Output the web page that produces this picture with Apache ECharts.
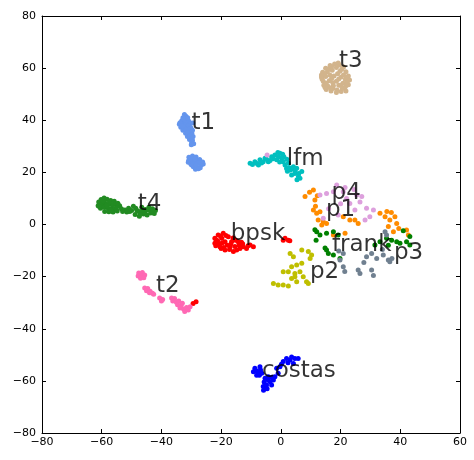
<!DOCTYPE html>
<html>
<head>
<meta charset="utf-8">
<script src="https://cdn.jsdelivr.net/npm/echarts@6/dist/echarts.min.js"></script>
<style>
html,body{margin:0;padding:0;background:#fff;}
#chart{width:474px;height:460px;}
</style>
</head>
<body>
<div id="chart"></div>
<script>
// ---- data ----
const xRange = [-80, 60];
const yRange = [-80, 80];
const tickStep = 20;

const t1 = [[-32.3,42.2],[-31.8,41.5],[-32.8,41.0],[-31.5,40.2],[-33.2,39.8],[-32.2,39.5],[-30.8,39.6],[-34.0,38.5],[-33.0,38.3],[-31.8,38.4],[-30.5,38.6],[-29.5,38.9],[-33.5,37.3],[-32.4,37.2],[-31.2,37.5],[-30.1,37.0],[-32.8,36.2],[-31.5,36.0],[-30.4,35.8],[-31.9,35.0],[-30.9,34.6],[-29.8,34.9],[-31.3,33.8],[-30.2,33.5],[-29.4,33.8],[-30.6,32.6],[-29.6,32.2],[-29.9,31.3],[-29.2,31.0],
  [-32.6,40.6],[-31.2,41.0],[-33.8,39.0],[-31.0,38.0],[-32.0,36.6],[-30.6,36.6],[-31.2,35.2],[-30.5,34.0],[-29.8,32.9],[-33.0,37.8],[-29.6,36.2],[-30.0,30.6],
  [-30.8,25.8],[-29.6,26.3],[-28.4,25.9],[-30.9,24.5],[-29.7,24.8],[-28.5,24.6],[-27.2,24.9],[-26.2,24.0],[-30.2,23.3],[-29.0,23.5],[-27.8,23.4],[-26.6,22.9],[-29.3,22.2],[-28.1,22.0],[-27.0,21.8],[-28.6,21.2],
  [-29.9,25.4],[-28.8,25.2],[-27.4,23.8],[-29.9,22.8],[-28.4,22.8],[-26.0,23.2],[-31.0,23.9],[-27.6,21.4]];
const t4 = [[-61.0,8.6],[-60.2,9.6],[-59.2,10.2],[-58.2,9.7],[-57.0,9.2],[-55.8,8.9],[-61.2,7.2],[-60.0,7.8],[-58.8,8.2],[-57.6,7.8],[-56.4,7.6],[-55.2,7.7],[-54.0,7.2],[-60.4,6.2],[-59.2,6.6],[-58.0,6.4],[-56.8,6.1],[-55.6,6.0],[-59.0,5.0],[-57.6,4.9],[-56.2,4.8],[-54.8,5.2],[-53.4,6.0],[-52.2,5.6],[-51.0,6.2],[-50.0,5.4],[-49.4,7.0],[-48.6,6.2],[-47.6,5.0],[-46.6,6.6],[-45.4,5.8],[-44.2,6.6],[-43.0,6.0],[-42.0,5.4],[-48.8,3.8],[-47.4,3.2],[-46.0,4.0],[-44.8,3.6],[-43.6,4.4],[-42.4,4.2],
  [-59.6,9.0],[-57.4,8.6],[-60.8,6.9],[-58.4,7.2],[-55.0,6.6],[-57.0,5.6],[-53.0,5.0],[-51.6,4.8],[-50.6,5.0],[-47.0,4.2],[-45.6,4.8],[-43.2,5.2],[-44.6,5.6],[-46.4,5.4],[-48.2,5.4],[-54.6,8.2]];
const t3 = [[15.0,60.0],[16.5,61.0],[18.0,61.6],[19.6,61.2],[21.0,60.4],[14.0,58.4],[15.6,58.6],[17.2,59.2],[19.8,58.8],[21.8,58.6],[22.6,57.0],[13.6,56.6],[15.0,56.8],[17.8,57.0],[20.2,56.6],[21.6,55.6],[23.0,55.4],[14.2,55.0],[16.2,55.2],[18.6,55.0],[20.8,54.2],[22.6,53.6],[14.4,53.4],[15.8,53.0],[17.6,53.2],[19.4,53.4],[21.4,52.4],[15.2,51.8],[16.8,51.2],[18.6,50.6],[20.2,51.0],[21.8,51.2],[17.4,52.2],
  [16.0,59.8],[18.6,60.2],[20.4,59.6],[14.6,57.6],[16.4,57.4],[19.0,57.8],[21.0,57.4],[22.0,56.4],[13.8,55.8],[17.0,56.0],[19.4,55.8],[22.2,54.6],[15.2,54.2],[17.4,54.4],[20.0,53.4],[21.8,53.2],[16.6,52.4],[18.8,51.6],[20.6,52.2],[14.8,52.6],[19.2,62.0],[17.0,60.6],[13.6,57.4]];
const lfm = [[-10.3,23.5],[-8.7,24.1],[-7.0,24.8],[-7.5,22.8],[-5.9,24.1],[-5.3,25.4],[-4.2,24.1],[-3.1,26.0],[-2.0,26.7],[-1.4,24.8],[-0.3,27.3],[0.3,25.4],[0.8,24.1],[1.4,22.8],[1.9,21.5],[3.1,20.9],[4.2,22.2],[4.7,19.6],[5.9,18.4],[7.0,20.3],[5.3,21.6],[2.5,23.5],[3.6,19.0],[6.4,17.7],[-0.8,26.0],[-9.5,23.0],[-6.5,23.6],[-2.6,25.2],[1.0,26.0],[2.8,21.8],
  [-8.0,23.4],[-4.8,25.0],[-3.6,24.6],[-1.0,27.6],[0.6,27.0],[2.0,25.0],[3.6,21.2],[4.8,20.6],[6.0,19.6],[5.4,17.2],[2.2,20.4],[-0.4,24.0]];
const bpsk = [[-22.1,-5.3],[-22.1,-7.2],[-21.0,-4.0],[-20.4,-8.5],[-19.3,-3.4],[-18.7,-9.8],[-17.6,-4.7],[-17.0,-8.5],[-15.9,-10.4],[-14.8,-9.8],[-13.7,-9.2],[-12.6,-8.5],[-11.5,-9.2],[-10.3,-7.9],[-9.2,-8.5],[-14.3,-6.6],[-16.5,-6.6],[-18.7,-6.6],[-19.8,-5.3],[-21.2,-6.2],[-20.6,-7.4],[-16.0,-5.2],
  [-21.6,-6.0],[-20.2,-4.4],[-18.4,-4.2],[-19.6,-7.0],[-18.0,-8.0],[-16.8,-7.6],[-15.4,-8.4],[-14.0,-8.0],[-12.8,-7.4],[-11.0,-8.2],[-17.2,-9.6],[-19.2,-8.8],[-15.2,-6.0],[-13.2,-6.8],[-21.8,-8.2],[-20.0,-9.2],
  [1.4,-5.3],[2.5,-6.0],[3.0,-6.2],[0.8,-6.0],[-29.4,-30.3],[-28.4,-29.6]];
const t2 = [[-47.6,-18.6],[-46.4,-18.4],[-47.8,-19.8],[-46.6,-19.6],[-45.6,-19.4],[-47.0,-20.6],[-45.9,-20.4],
  [-45.6,-24.4],[-44.6,-24.6],[-45.0,-25.4],[-43.8,-25.6],[-43.0,-26.4],[-44.0,-26.2],[-42.6,-26.8],
  [-40.6,-28.2],[-39.6,-28.8],[-40.0,-29.4],
  [-36.6,-28.2],[-35.6,-28.4],[-36.2,-29.4],[-35.0,-29.8],[-34.2,-29.4],[-34.6,-30.8],[-33.4,-31.0],[-33.8,-32.0],[-32.6,-32.4],[-31.6,-31.8],[-32.2,-33.4],[-31.0,-32.8],[-30.4,-31.6],[-33.0,-30.2]];
const costas = [[-9.2,-56.5],[-8.7,-55.2],[-8.1,-57.8],[-7.0,-54.6],[-6.4,-57.1],[-5.3,-59.0],[-5.9,-62.2],[-4.8,-61.6],[-3.6,-60.3],[-2.5,-59.7],[-3.1,-61.6],[-2.0,-58.4],[-0.9,-57.1],[-0.3,-54.6],[0.8,-52.6],[1.9,-51.4],[3.1,-52.0],[4.2,-53.3],[5.8,-51.4],[4.7,-51.4],[-1.4,-55.2],[-4.2,-58.4],[-5.3,-62.2],[-7.6,-56.5],[-5.8,-63.6],[-4.6,-63.0],
  [-8.4,-56.0],[-6.8,-55.8],[-5.6,-60.4],[-4.2,-59.8],[-3.0,-58.6],[0.2,-53.6],[2.4,-53.0],[3.6,-50.8],[-7.2,-57.8]];
const p2 = [[3.1,-11.1],[4.2,-12.4],[7.0,-9.8],[9.2,-10.4],[10.3,-11.7],[9.8,-13.0],[5.3,-15.5],[7.0,-14.9],[3.6,-16.2],[0.8,-18.1],[2.5,-18.1],[4.7,-18.8],[6.4,-18.1],[7.5,-20.0],[8.6,-22.0],[3.6,-20.7],[-2.5,-22.6],[-0.9,-23.2],[0.8,-23.2],[2.5,-23.6],[5.3,-22.0],[9.2,-22.6],[4.7,-20.0]];
const p1 = [[8.1,10.7],[10.9,13.2],[9.6,12.4],[11.4,9.4],[12.2,11.0],[10.9,5.6],[12.0,4.3],[13.1,4.9],[12.5,1.7],[14.2,1.1],[15.3,0.4],[13.7,-0.2],[20.9,3.0],[23.1,1.7],[24.8,1.7],[25.9,0.4],[33.2,4.3],[34.9,3.0],[36.5,1.7],[38.2,3.0],[38.8,0.4],[36.0,-0.8],[37.7,-2.8],[42.1,-2.1],[42.7,-4.0],[21.5,-3.4],[17.6,-4.0],[11.6,7.0],[39.5,-1.5],[35.5,5.0],[37.0,4.6]];
const p4 = [[13.1,11.3],[15.3,11.9],[17.6,12.6],[20.9,12.6],[25.4,11.3],[27.1,10.7],[23.1,8.1],[28.7,6.2],[31.0,5.6],[28.2,1.7],[24.8,5.6],[19.2,3.6],[14.2,2.4],[29.8,3.0],[22.0,10.0],[18.7,15.2],[21.5,14.2],[24.5,13.4],[26.5,8.6],[20.0,8.0],[16.0,6.0],[-4.6,26.7]];
const frank = [[12.0,-2.8],[13.1,-4.0],[15.3,-3.4],[17.6,-2.8],[19.2,-4.0],[15.3,-9.8],[15.9,-11.1],[17.6,-11.7],[19.8,-13.0],[35.4,-5.3],[37.1,-6.0],[38.8,-6.6],[39.9,-7.2],[42.1,-6.6],[43.2,-7.9],[33.2,-6.6],[31.5,-7.9],[11.4,-2.0],[14.8,-9.0],[41.0,-2.4],[43.2,-4.6],[36.0,-8.0],[11.8,-6.0]];
const p3 = [[20.9,-11.1],[19.8,-13.6],[20.9,-16.2],[25.9,-17.5],[26.5,-18.8],[28.7,-12.4],[30.4,-11.1],[32.1,-13.0],[34.3,-11.7],[34.9,-2.8],[35.4,-4.0],[36.0,-13.6],[36.5,-14.3],[30.4,-17.5],[31.0,-19.6],[19.4,-10.2],[21.4,-18.0],[34.0,-9.6],[27.8,-14.6],[37.2,-13.0]];

const labelNames = ['t1','t3','lfm','t4','p4','p1','bpsk','frank','p3','t2','p2','costas'];
const labelX = [-29.9, 19.5, 2.0, -47.9, 17.0, 15.1, -16.8, 17.1, 37.9, -41.8, 9.75, -6.3];
const labelY = [36.3, 60.4, 22.6, 5.2, 9.4, 3.0, -6.3, -10.4, -13.4, -26.2, -20.9, -58.9];

// ---- styles ----
const groups = [
  {name:'t1', data:t1, color:'#6495ED'},
  {name:'t4', data:t4, color:'#228B22'},
  {name:'t3', data:t3, color:'#D2B48C'},
  {name:'lfm', data:lfm, color:'#00BFBF'},
  {name:'bpsk', data:bpsk, color:'#FF0000'},
  {name:'t2', data:t2, color:'#FF69B4'},
  {name:'costas', data:costas, color:'#0000FF'},
  {name:'p2', data:p2, color:'#BFBF00'},
  {name:'p1', data:p1, color:'#FF8C00'},
  {name:'p4', data:p4, color:'#DDA0DD'},
  {name:'frank', data:frank, color:'#008000'},
  {name:'p3', data:p3, color:'#708090'}
];

const FONT = 'DejaVu Sans';
const minusFmt = v => String(v).replace('-', '\u2212');

const baseAxis = {
  interval: tickStep,
  axisLine: {show: true, onZero: false, lineStyle: {color: '#000', width: 1}},
  axisTick: {show: true, inside: true, length: 4, lineStyle: {color: '#000'}},
  splitLine: {show: false},
};

const chart = echarts.init(document.getElementById('chart'));
const series = groups.map(g => ({
  type: 'scatter', name: g.name, data: g.data, symbolSize: 5,
  itemStyle: {color: g.color, opacity: 1}, silent: true, z: 2
}));
series.push({
  type: 'scatter', name: 'labels', symbolSize: 0, z: 10, silent: true,
  data: labelNames.map((n, i) => ({value: [labelX[i], labelY[i]], name: n})),
  label: {
    show: true, position: [0, 0], align: 'left', verticalAlign: 'bottom',
    offset: [0, 5], formatter: p => p.name,
    fontFamily: FONT, fontSize: 23, color: '#000'
  }
});

chart.setOption({
  animation: false,
  backgroundColor: '#fff',
  grid: {left: 42, right: 14, top: 16, bottom: 27},
  xAxis: [
    Object.assign({}, baseAxis, {type: 'value', min: xRange[0], max: xRange[1], position: 'bottom',
      axisLabel: {show: true, margin: 4, fontFamily: FONT, fontSize: 11, color: '#000', formatter: minusFmt}}),
    Object.assign({}, baseAxis, {type: 'value', min: xRange[0], max: xRange[1], position: 'top',
      axisLabel: {show: false}})
  ],
  yAxis: [
    Object.assign({}, baseAxis, {type: 'value', min: yRange[0], max: yRange[1], position: 'left',
      axisLabel: {show: true, margin: 6, fontFamily: FONT, fontSize: 11, color: '#000', formatter: minusFmt}}),
    Object.assign({}, baseAxis, {type: 'value', min: yRange[0], max: yRange[1], position: 'right',
      axisLabel: {show: false}})
  ],
  series: series
});
</script>
</body>
</html>
